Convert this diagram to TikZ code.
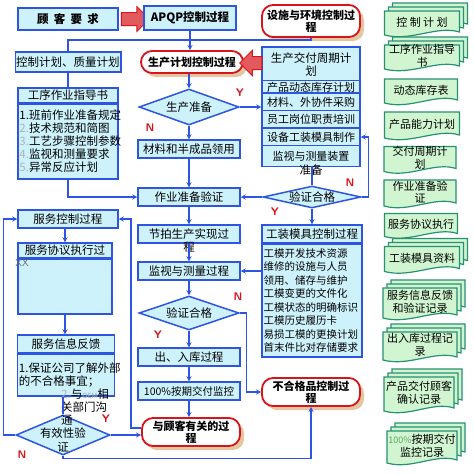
\documentclass[tikz,border=0pt]{standalone}
\usepackage{fontspec}
\setmainfont{Noto Sans CJK SC}
\usetikzlibrary{arrows.meta,shapes.geometric,shapes.arrows,shadows}

\definecolor{bblue}{RGB}{45,85,225}
\definecolor{bfill}{RGB}{205,242,252}
\definecolor{pred}{RGB}{215,20,25}
\definecolor{ptan}{RGB}{228,198,160}
\definecolor{dfill}{RGB}{208,245,208}
\definecolor{dline}{RGB}{40,145,115}
\definecolor{dnum}{RGB}{95,165,95}
\newcommand{\fnum}[1]{{\color{gray!60}#1}}

\tikzset{
  box/.style={draw=bblue,fill=bfill,line width=1.5pt,minimum width=100pt,minimum height=18pt,
    inner sep=1pt,font=\fontsize{11.5}{13}\selectfont,align=center},
  stk/.style={box,minimum width=98pt,font=\fontsize{11}{12}\selectfont},
  dia/.style={diamond,aspect=4,draw=bblue,fill=bfill,line width=1.5pt,inner sep=0pt,
    text height=8pt,text depth=0pt,font=\fontsize{11.5}{13}\selectfont,align=center},
  proc/.style={draw=pred,line width=1.8pt,fill=white,rounded corners=11pt,minimum width=98pt,
    minimum height=26pt,inner sep=1pt,font=\bfseries\fontsize{11}{12}\selectfont,align=center,
    drop shadow={fill=ptan,shadow xshift=4pt,shadow yshift=-4pt,opacity=1}},
  bigarr/.style={single arrow,draw=pred,fill=pred!70,line width=1pt,minimum height=28pt,
    single arrow head extend=6pt,inner sep=6pt},
  conn/.style={draw=bblue,line width=1.4pt,-{Stealth[length=5pt,width=5pt]}},
  plain/.style={draw=bblue,line width=1.4pt},
  yn/.style={text=pred,inner sep=0pt,font=\bfseries\sffamily\fontsize{11}{12}\selectfont},
  ovf/.style={inner sep=0pt,font=\fontsize{11.5}{13}\selectfont},
  docst/.style={draw=dline,fill=dfill,line width=1.2pt},
  doctext/.style={inner sep=0pt,align=center,font=\fontsize{11}{12.5}\selectfont}
}

\begin{document}
\begin{tikzpicture}[x=1pt,y=-1pt]
\useasboundingbox[fill=white] (0,0) rectangle (474,475);

% haut
\node[box,minimum height=22pt,font=\bfseries\fontsize{11.5}{13}\selectfont] (cust) at (68,19) {顾\ \ 客\ \ 要\ \ 求};
\node[bigarr] (a1) at (132,19) {};
\node[box,minimum width=92pt,minimum height=24pt,font=\bfseries\fontsize{11.5}{13}\selectfont] (apqp) at (190,18) {APQP控制过程};
\node[proc,minimum height=32pt] (fac) at (311,21) {设施与环境控制过\\程};

% colonne gauche
\node[box,minimum height=20pt] (cpl) at (68,62) {控制计划、质量计划};
\node[box,minimum height=15pt] (wih) at (68,95.5) {工序作业指导书};
\node[box,anchor=north,minimum height=75pt,text width=97pt,align=left] (wib) at (68,103)
  {1.班前作业准备规定\\\fnum{2.}技术规范和简图\\\fnum{3.}工艺步骤控制参数\\\fnum{4.}监视和测量要求\\\fnum{5.}异常反应计划};
\node[box] (svc) at (68,219) {服务控制过程};
\node[box,minimum width=94pt,minimum height=15pt,label={[ovf,yshift=1pt]below:程}] (sah) at (65,250.5) {服务协议执行过};
\node[box,anchor=north,minimum width=94pt,minimum height=55pt] (sab) at (65,258) {};
\node[anchor=north west,inner sep=1pt,text=gray!80!black,font=\sffamily\fontsize{10}{11}\selectfont] (xx) at ([xshift=-3pt]sab.north west) {XX};
\node[box,minimum width=97pt] (sfh) at (66,344) {服务信息反馈};
\node[box,anchor=north,minimum width=97pt,minimum height=42pt,text width=94pt,align=left] (sfb) at (66,353)
  {1.保证公司了解外部\\的不合格事宜；};
\node[dia,minimum width=94pt,minimum height=40pt,
  label={[ovf,align=center,font=\fontsize{11.5}{14}\selectfont,yshift=-5pt]center:有效性验\\证}] (eff) at (63,435) {};
\node[anchor=north west,inner sep=0pt,align=left,font=\fontsize{11.5}{13}\selectfont] (sfx) at (61,389)
  {\fnum{2.}与{\color{gray!70}\fontsize{7}{8}\selectfont OEM}相\\关部门沟\\通};

% colonne milieu
\node[proc,minimum width=102pt,minimum height=22pt] (ppc) at (192,62) {生产计划控制过程};
\node[dia,minimum width=100pt,minimum height=36pt] (prep) at (189,107) {生产准备};
\node[box,minimum width=102pt] (mat) at (189,149) {材料和半成品领用};
\node[box,minimum width=102pt] (wpv) at (189,197) {作业准备验证};
\node[box,minimum width=102pt,label={[ovf,yshift=2pt]below:程}] (takt) at (189,234) {节拍生产实现过};
\node[box,minimum width=102pt] (mon) at (189,271) {监视与测量过程};
\node[dia,minimum width=100pt,minimum height=34pt] (chk2) at (189,313) {验证合格};
\node[box,minimum width=102pt] (io) at (189,357) {出、入库过程};
\node[box,minimum width=102pt,font=\fontsize{10.5}{12}\selectfont] (otm) at (189,391) {100\%按期交付监控};
\node[proc,minimum width=98pt,minimum height=28pt] (cus) at (191,432) {与顾客有关的过\\程};

% colonne droite
\node[box,minimum width=98pt,minimum height=35pt] (s1) at (311,64.5) {生产交付周期计\\划};
\node[bigarr,shape border rotate=180,minimum height=22pt] (a2) at (254,63) {};
\node[stk,minimum height=13pt] (s2) at (311,87) {产品动态库存计划};
\node[stk] (s3) at (311,102) {材料、外协件采购};
\node[stk] (s4) at (311,119.5) {员工岗位职责培训};
\node[stk] (s5) at (311,137) {设备工装模具制作};
\node[stk,minimum height=21pt,label={[ovf,yshift=3pt]below:准备}] (s6) at (311,156) {监视与测量装置};
\node[dia,minimum width=98pt,minimum height=22pt] (chk1) at (312,197) {验证合格};
\node[box,minimum width=100pt] (toolh) at (312,234) {工装模具控制过程};
\node[box,anchor=north,minimum width=100pt,minimum height=113pt,text width=97pt,align=left,
  font=\fontsize{10.5}{13.5}\selectfont] (toolb) at (312,243)
  {工模开发技术资源\\维修的设施与人员\\领用、储存与维护\\工模变更的文件化\\工模状态的明确标识\\工模历史履历卡\\易损工模的更换计划\\首末件比对存储要求};
\node[proc,minimum height=28pt] (ncp) at (311,392) {不合格品控制过\\程};

% Y / N
\node[yn] (y1) at (240,93) {Y};
\node[yn] (n1) at (150,128) {N};
\node[yn] (n2) at (350,183) {N};
\node[yn] (y2) at (275,212) {Y};
\node[yn] (n3) at (238,297) {N};
\node[yn] (y3) at (158,335) {Y};
\node[yn] (y4) at (106,419) {Y};
\node[yn] (n4) at (22,455) {N};

% Flèches
\coordinate (jR) at (311,40);
\draw[plain] (cpl.north) |- (jR) -- (fac.south);
\draw[conn] (apqp.south) -- (apqp.south |- ppc.north);
\draw[plain] (cpl) -- (wih);
\draw[conn] (wib.south) |- (wpv.west);
\draw[conn] (prep.north |- ppc.south) -- (prep.north);
\draw[conn] (prep.east) -- (prep.east -| s3.west);
\draw[conn] (prep) -- (mat);
\draw[conn] (mat) -- (wpv);
\draw[plain] (chk1.north |- s6.south) -- (chk1.north);
\draw[conn] (chk1.west) -- (chk1.west -| wpv.east);
\draw[conn] (chk1.east) -- ++(7,0) |- (s5.east);
\draw[conn] (chk1) -- (toolh);
\draw[conn] (wpv) -- (takt);
\draw[conn] (takt) -- (mon);
\draw[conn] (mon.east -| toolb.west) -- (mon.east);
\draw[conn] (mon) -- (chk2);
\draw[conn] (chk2) -- (io);
\draw[conn] (chk2.east) -- ++(7,0) |- (ncp.west);
\draw[conn] (io) -- (otm);
\draw[conn] (otm) -- (otm |- cus.north);
\draw[conn] ([yshift=4pt]cus.west) -- ++(-10,0) |- (svc.east);
\draw[conn] (sah.north |- svc.south) -- (sah.north);
\draw[conn] (sab) -- (sab |- sfh.north);
\draw[plain] (sfb.south -| eff.north) -- (eff.north);
\draw[conn] (eff.east) -- (eff.east -| cus.west);
\draw[conn] (eff.west) -- ++(-12,0) |- (svc.west);
\draw[conn] (eff.south) -- ++(0,3) -| (ncp.south);

% documents
\foreach \cx/\cy/\w/\h/\k/\txt [count=\i] in {
  422/23/75/24/2/{控\ 制\ 计\ 划},
  422/57/75/24/2/{工序作业指导\\书},
  421/91/73/24/0/{动态库存表},
  422/125/75/26/0/{产品能力计划},
  420/159/72/25/0/{交付周期计\\划},
  420/193/72/26/0/{作业准备验\\证},
  421/225/73/23/0/{服务协议执行},
  422/259/75/25/2/{工装模具资料},
  420/303/74/30/2/{服务信息反馈\\和验证记录},
  420/346/74/28/2/{出入库过程记\\录},
  419/394/70/34/2/{产品交付顾客\\确认记录},
  422/447/70/32/2/{{\color{dnum}\fontsize{9}{10}\selectfont 100\%}按期交付\\监控记录}}{
  \foreach \s in {\k,...,0}{
    \pgfmathsetmacro\xa{\cx-\w/2+4*\s}
    \pgfmathsetmacro\xb{\cx+\w/2+4*\s}
    \pgfmathsetmacro\ya{\cy-\h/2-4*\s}
    \pgfmathsetmacro\yb{\cy+\h/2-4*\s}
    \filldraw[docst] (\xa,\ya) -- (\xb,\ya) -- (\xb,\yb-3)
      .. controls ({\xb-0.3*\w},\yb-10) and ({\xa+0.35*\w},\yb+7) .. (\xa,\yb) -- cycle;
  }
  \node[doctext] (doc\i) at (\cx,\cy-1) {\txt};
}
\end{tikzpicture}
\end{document}
